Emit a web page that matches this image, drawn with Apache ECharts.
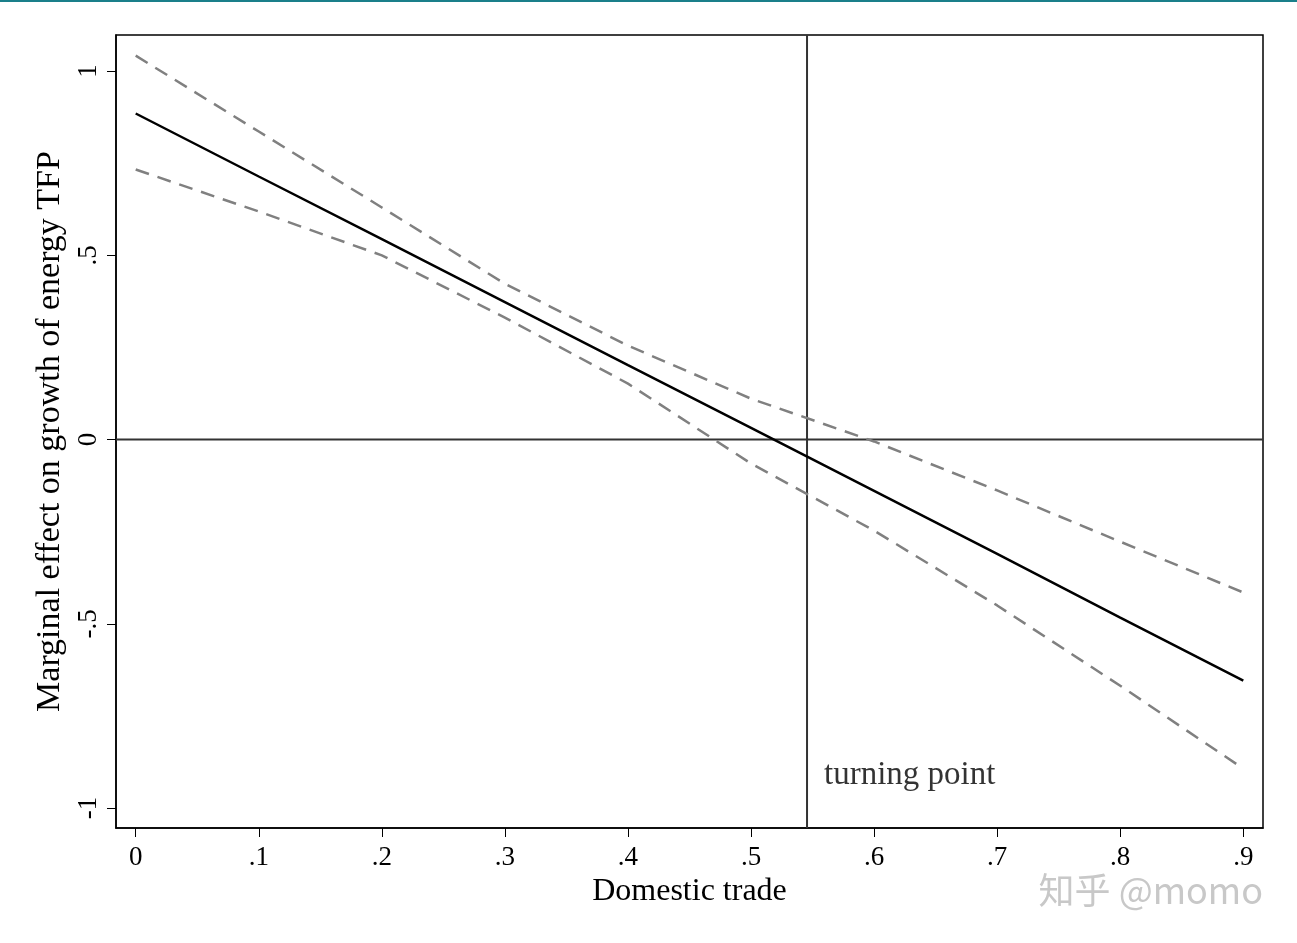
<!DOCTYPE html>
<html><head><meta charset="utf-8">
<script src="https://cdn.jsdelivr.net/npm/echarts@6/dist/echarts.min.js"></script>
<style>html,body{margin:0;padding:0;background:#fff}#c{width:1297px;height:943px}</style>
</head><body><div id="c"></div>
<script>
const xs = [0,0.1,0.2,0.3,0.4,0.5,0.6,0.7,0.8,0.9];
const effect = [0.885,0.714,0.544,0.373,0.202,0.032,-0.139,-0.310,-0.483,-0.654];
const upper = [1.042,0.836,0.63,0.423,0.255,0.111,-0.005,-0.138,-0.277,-0.415];
const lower = [0.733,0.619,0.5,0.331,0.152,-0.065,-0.247,-0.45,-0.668,-0.893];
const xTicks = [0,0.1,0.2,0.3,0.4,0.5,0.6,0.7,0.8,0.9];
const yTicks = [-1,-0.5,0,0.5,1];
const turningPoint = 0.5455;
const yMin = -1.054, yMax = 1.098, xMin = -0.016, xMax = 0.916;
const fmt = v => { if (v===0) return '0'; let s = String(+v.toFixed(2)); return s.replace(/^(-?)0\./,'$1.'); };
const pairs = a => xs.map((x,i)=>[x,a[i]]);
const F = 'Liberation Serif, Times New Roman, serif';
const chart = echarts.init(document.getElementById('c'));
chart.setOption({
  animation:false,
  graphic:[
    {type:'rect',shape:{x:0,y:0,width:1297,height:2},style:{fill:'#1a7f8a'}},
    {type:'text',right:34,top:872,style:{text:'知乎 @momo',fill:'#c8c8c8',font:'36px Noto Sans CJK SC'}}
  ],
  grid:{left:116,right:34,top:35,bottom:115,show:true,borderColor:'#000',borderWidth:1.5},
  xAxis:{type:'value',min:xMin,max:xMax,
    name:'Domestic trade',nameLocation:'middle',nameGap:47,nameTextStyle:{fontFamily:F,fontSize:32,color:'#000'},
    axisLine:{onZero:false,lineStyle:{color:'#000',width:1.5}},splitLine:{show:false},
    axisTick:{length:9,lineStyle:{color:'#000'},customValues:xTicks},
    axisLabel:{fontFamily:F,fontSize:27,color:'#000',margin:16,customValues:xTicks,formatter:fmt}},
  yAxis:{type:'value',min:yMin,max:yMax,
    name:'Marginal effect on growth of energy TFP',nameLocation:'middle',nameGap:42,nameTextStyle:{fontFamily:F,fontSize:34,color:'#000'},
    axisLine:{onZero:false,lineStyle:{color:'#000',width:1.5}},splitLine:{show:false},
    axisTick:{length:9,lineStyle:{color:'#000'},customValues:yTicks},
    axisLabel:{fontFamily:F,fontSize:27,color:'#000',rotate:90,margin:14,customValues:yTicks,formatter:fmt}},
  series:[
    {type:'line',data:[[xMin,0],[xMax,0]],symbol:'none',lineStyle:{color:'#333',width:2}},
    {type:'line',data:[[turningPoint,yMin],[turningPoint,yMax]],symbol:'none',lineStyle:{color:'#333',width:2}},
    {type:'line',data:pairs(upper),symbol:'none',lineStyle:{color:'#808080',width:2.5,type:[14,9]}},
    {type:'line',data:pairs(lower),symbol:'none',lineStyle:{color:'#808080',width:2.5,type:[14,9]}},
    {type:'line',data:pairs(effect),symbol:'none',lineStyle:{color:'#000',width:2.5}},
    {type:'scatter',data:[[turningPoint,-0.91]],symbolSize:0,
     label:{show:true,formatter:'turning point',position:'right',distance:17,fontFamily:F,fontSize:33,color:'#000',textBorderWidth:0}}
  ]
});
</script></body></html>
